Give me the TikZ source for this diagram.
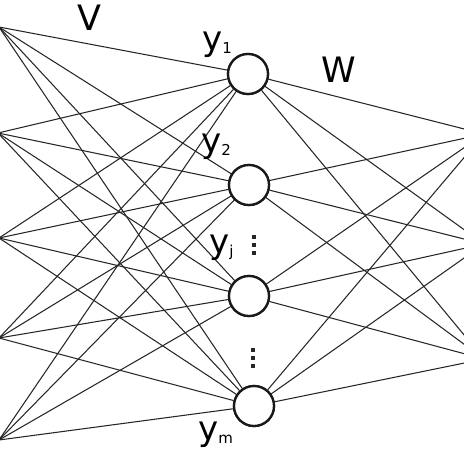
\documentclass[tikz,border=0pt]{standalone}
\usepackage{fontspec}
\setmainfont{DejaVu Sans}
\newcommand{\ysub}[1]{y\raisebox{-3.5pt}{\fontsize{15}{15}\selectfont #1}}
\begin{document}
\begin{tikzpicture}[x=1pt,y=-1pt,
  conn/.style={draw=black!85,line width=1.05pt},
  hid/.style={circle,draw=black!90,line width=2.3pt,fill=white,minimum size=40pt,inner sep=0pt},
  lab/.style={anchor=base west,inner sep=0pt,font=\fontsize{34}{34}\selectfont},
  big/.style={anchor=base west,inner sep=0pt,font=\fontsize{35}{35}\selectfont},
  vdot/.style={rectangle,fill=black!85,inner sep=0pt,minimum size=4.2pt}]
\useasboundingbox (0,0) rectangle (464,464);
\fill[white] (0,0) rectangle (464,464);
\coordinate (i1) at (-1,27);
\coordinate (i2) at (-2,133);
\coordinate (i3) at (-1,238);
\coordinate (i4) at (-1,338);
\coordinate (i5) at (-1,440);
\node[hid] (h1) at (248,74) {};
\node[hid] (h2) at (249,185) {};
\node[hid] (h3) at (249,296) {};
\node[hid] (h4) at (254,406) {};
\coordinate (o1) at (484,134);
\coordinate (o2) at (484,244);
\coordinate (o3) at (484,359);
\foreach \i in {1,...,5}{\foreach \h in {1,...,4}{\draw[conn] (i\i) -- (h\h);}}
\foreach \h in {1,...,4}{\foreach \o in {1,...,3}{\draw[conn] (h\h) -- (o\o);}}
\node[hid] at (h1) {};
\node[hid] at (h2) {};
\node[hid] at (h3) {};
\node[hid] at (h4) {};
\node[big] (V) at (77,30) {V};
\node[big] (W) at (321,82) {W};
\node[lab] (l1) at (202,50) {\ysub{1}};
\node[lab] (l2) at (201,152) {\ysub{2}};
\node[lab] (l3) at (209,253) {\ysub{j}};
\node[lab] (l4) at (198,440) {\ysub{m}};
\node[vdot] (d1) at (254,237) {};
\node[vdot] (d2) at (254,245) {};
\node[vdot] (d3) at (254,253) {};
\node[vdot] (d4) at (253,350) {};
\node[vdot] (d5) at (253,358) {};
\node[vdot] (d6) at (253,366) {};
\end{tikzpicture}
\end{document}
